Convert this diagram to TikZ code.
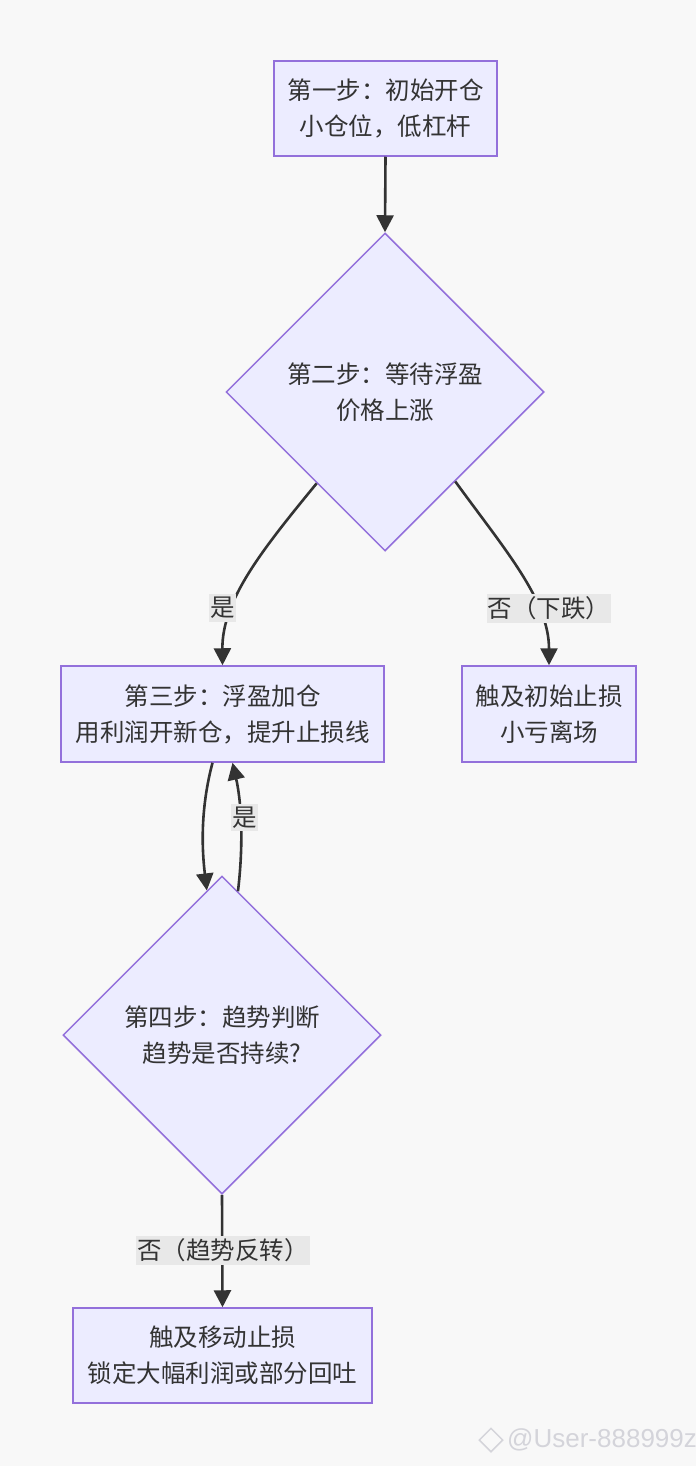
\documentclass[tikz,border=0pt]{standalone}
\usepackage{fontspec}
\setmainfont{Noto Sans CJK SC}
\newfontfamily\wmfont{Liberation Sans}
\usetikzlibrary{arrows.meta,shapes.geometric,calc}
\definecolor{bgc}{HTML}{F8F8F8}
\definecolor{nodefill}{HTML}{ECECFF}
\definecolor{nodeline}{HTML}{9370DB}
\definecolor{ink}{HTML}{333333}
\definecolor{lblbg}{HTML}{E8E8E8}
\definecolor{wm}{HTML}{D4D4DA}
\begin{document}
\begin{tikzpicture}[x=1pt,y=-1pt,
  txt/.style={font=\fontsize{24.5}{36}\selectfont, text=ink, align=center},
  box/.style={txt, draw=nodeline, fill=nodefill, line width=1.5pt, inner sep=0pt},
  dec/.style={txt, diamond, shape aspect=1, draw=nodeline, fill=nodefill, line width=1.5pt, inner sep=0pt, minimum width=318pt, minimum height=318pt},
  edge/.style={draw=ink, line width=2.6pt, -{Triangle[length=17pt,width=17pt]}},
  lbl/.style={txt, fill=lblbg, inner xsep=1pt, inner ysep=3pt}]
\fill[bgc] (0,0) rectangle (696,1466);
\useasboundingbox (0,0) rectangle (696,1466);

\node[box, minimum width=223pt, minimum height=95pt] (b1) at (385.5,108.5) {第一步：初始开仓\\小仓位，低杠杆};
\node[dec] (d1) at (385,392) {第二步：等待浮盈\\价格上涨};
\node[box, minimum width=323pt, minimum height=96pt] (b3) at (222.5,714) {第三步：浮盈加仓\\用利润开新仓，提升止损线};
\node[box, minimum width=174pt, minimum height=96pt] (bs) at (549,714) {触及初始止损\\小亏离场};
\node[dec] (d2) at (222,1035) {第四步：趋势判断\\趋势是否持续?};
\node[box, minimum width=299pt, minimum height=95pt] (bf) at (222.5,1355.5) {触及移动止损\\锁定大幅利润或部分回吐};

\coordinate (d1l) at ($(d1.west)!0.572!(d1.south)$);
\coordinate (d1r) at ($(d1.south)!0.44!(d1.east)$);
\coordinate (b3a) at ($(b3.south)+(-10,0)$);
\coordinate (b3b) at ($(b3.south)+(10,0)$);
\coordinate (d2a) at ($(d2.north)!0.095!(d2.west)$);
\coordinate (d2b) at ($(d2.north)!0.1!(d2.east)$);

\draw[edge] (b1.south) -- (d1.north);
\draw[edge] (d1l) .. controls (262,550) and (222,600) .. (b3.north);
\draw[edge] (d1r) .. controls (505,550) and (549,600) .. (bs.north);
\draw[edge] (b3a) .. controls (200,810) and (202,850) .. (d2a);
\draw[edge] (d2b) .. controls (244,840) and (241,800) .. (b3b);
\draw[edge] (d2.south) -- (bf.north);

\node[lbl] (l1) at (222.5,608) {是};
\node[lbl] (l2) at (549,608.5) {否（下跌）};
\node[lbl] (l3) at (244.5,817.5) {是};
\node[lbl] (l4) at (223,1250.5) {否（趋势反转）};

\node[draw=wm, line width=1.5pt, diamond, minimum size=24pt, inner sep=0pt] (logo) at (491,1440) {};
\node[font=\wmfont\fontsize{26}{30}\selectfont, text=wm, anchor=west, inner sep=0pt] (wmt) at (507,1440) {@User-888999z};
\end{tikzpicture}
\end{document}
